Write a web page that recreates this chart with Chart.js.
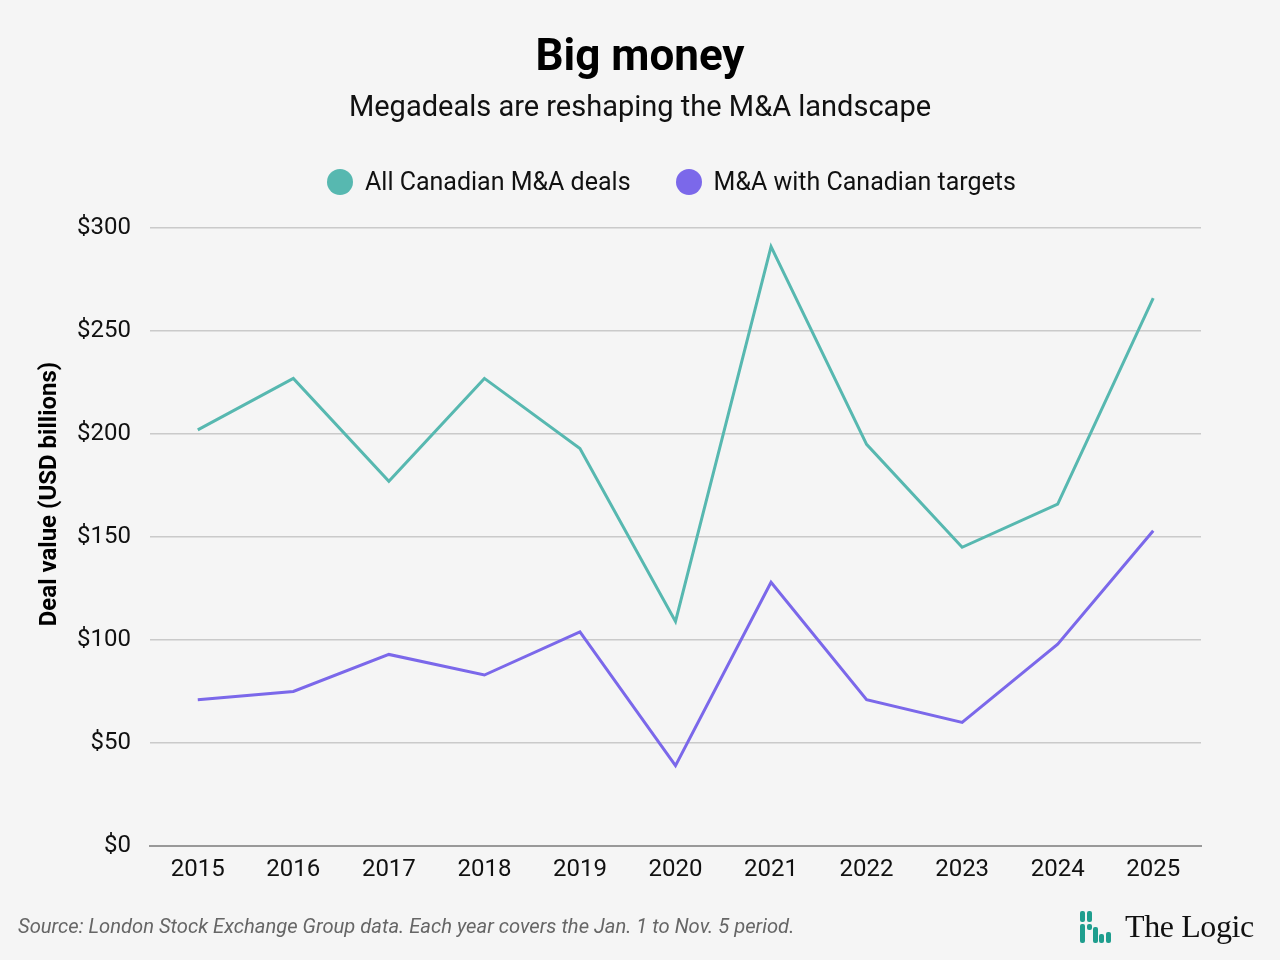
<!DOCTYPE html>
<html><head><meta charset="utf-8">
<script src="https://cdn.jsdelivr.net/npm/chart.js@4/dist/chart.umd.min.js"></script>
<style>
html,body{margin:0;padding:0;background:#f5f5f5;}
#wrap{position:relative;width:1280px;height:960px;background:#f5f5f5;font-family:Roboto,sans-serif;}
canvas{position:absolute;left:0;top:0;}
#title{position:absolute;top:29px;left:0;width:1280px;text-align:center;font-weight:700;font-size:44px;color:#000;line-height:52px;}
#sub{position:absolute;top:89px;left:0;width:1280px;text-align:center;font-size:29px;color:#111;line-height:34px;}
#legend{position:absolute;top:167px;left:327px;display:flex;gap:45px;font-size:25px;color:#111;line-height:30px;white-space:nowrap;}
#legend .it{display:flex;align-items:center;}
#legend .dot{width:26px;height:26px;border-radius:50%;margin-right:12px;}
#source{position:absolute;left:18px;top:914px;font-size:20.2px;font-style:italic;color:#666;line-height:24px;white-space:nowrap;}
#logo{position:absolute;left:1080px;top:910px;height:40px;}
#logo .t{position:absolute;left:45px;top:-2px;font-family:"Liberation Serif","DejaVu Serif",serif;font-size:32px;color:#111;white-space:nowrap;letter-spacing:-0.4px;}
#logo .b{position:absolute;background:#1f9e8e;border-radius:2px;}
</style></head>
<body><div id="wrap">
<canvas id="c" width="1280" height="960"></canvas>
<div id="title">Big money</div>
<div id="sub">Megadeals are reshaping the M&amp;A landscape</div>
<div id="legend"></div>
<div id="source">Source: London Stock Exchange Group data. Each year covers the Jan. 1 to Nov. 5 period.</div>
<div id="logo">
 <div class="b" style="left:0;top:1px;width:5px;height:11px"></div>
 <div class="b" style="left:7px;top:1px;width:5px;height:11px"></div>
 <div class="b" style="left:0;top:14px;width:5px;height:19px"></div>
 <div class="b" style="left:7px;top:14px;width:5px;height:6px"></div>
 <div class="b" style="left:13px;top:17px;width:5px;height:16px"></div>
 <div class="b" style="left:19px;top:24px;width:5px;height:9px"></div>
 <div class="b" style="left:26px;top:22px;width:5px;height:11px"></div>
 <div class="t">The Logic</div>
</div>
</div>
<script>
const years = ["2015","2016","2017","2018","2019","2020","2021","2022","2023","2024","2025"];
const allCanadian = [202, 227, 177, 227, 193, 109, 291, 195, 145, 166, 266];
const canadianTargets = [71, 75, 93, 83, 104, 39, 128, 71, 60, 98, 153];
const seriesNames = ["All Canadian M&A deals", "M&A with Canadian targets"];
const seriesColors = ["#57b8b0", "#7b68ea"];
const yTicks = [0, 50, 100, 150, 200, 250, 300];

const leg = document.getElementById('legend');
seriesNames.forEach((n,i)=>{
  const d=document.createElement('div');d.className='it';
  d.innerHTML='<span class="dot" style="background:'+seriesColors[i]+'"></span><span>'+n.replace('&','&amp;')+'</span>';
  leg.appendChild(d);
});

const yTitle = {
  id:'yTitle',
  afterDraw(chart){
    const ctx=chart.ctx;ctx.save();
    ctx.translate(50,494);ctx.rotate(-Math.PI/2);
    ctx.font='bold 24px Roboto';ctx.fillStyle='#000';ctx.textAlign='center';ctx.textBaseline='middle';
    ctx.fillText('Deal value (USD billions)',0,0);ctx.restore();
  }
};

new Chart(document.getElementById('c'),{
  type:'line',
  data:{labels:years,datasets:[
    {label:seriesNames[0],data:allCanadian,borderColor:seriesColors[0],backgroundColor:seriesColors[0],borderWidth:3,pointRadius:0,tension:0},
    {label:seriesNames[1],data:canadianTargets,borderColor:seriesColors[1],backgroundColor:seriesColors[1],borderWidth:3,pointRadius:0,tension:0}
  ]},
  options:{
    responsive:false,animation:false,
    layout:{padding:{top:228,left:0,right:79,bottom:74}},
    plugins:{legend:{display:false},title:{display:false},tooltip:{enabled:false}},
    scales:{
      x:{offset:true,
        afterFit(s){s.height=40;},
        grid:{display:false,drawTicks:false},
        border:{display:true,color:'#999',width:2},
        ticks:{padding:10,color:'#111',font:{family:'Roboto',size:24}}},
      y:{min:0,max:300,
        afterFit(s){s.width=150;},
        afterBuildTicks(s){s.ticks=yTicks.map(v=>({value:v}));},
        grid:{color:'#cacaca',lineWidth:1.5,drawTicks:false},
        border:{display:false},
        ticks:{padding:19,color:'#111',font:{family:'Roboto',size:24},callback:v=>'$'+v}}
    }
  },
  plugins:[yTitle]
});
</script>
</body></html>
